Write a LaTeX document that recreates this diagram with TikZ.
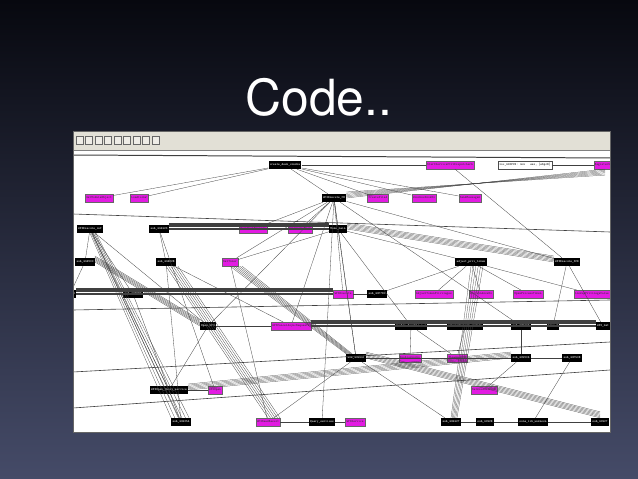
\documentclass[tikz,border=0pt]{standalone}
\usepackage{fontspec}
\setmainfont{TeX Gyre Heros}
\usetikzlibrary{positioning}
\definecolor{slidetop}{HTML}{07080F}
\definecolor{slidebot}{HTML}{454B68}
\definecolor{fnpink}{HTML}{E21BE2}
\definecolor{barcol}{HTML}{E2E0D6}
\tikzset{
  blk/.style={fill=black,text=white,font=\ttfamily\fontsize{3.2}{3.6}\selectfont,inner sep=1.2pt,minimum height=8bp},
  imp/.style={fill=fnpink,text=black!80,font=\ttfamily\fontsize{3.2}{3.6}\selectfont,inner sep=1.2pt,minimum height=8bp,draw=black!60,line width=0.2pt},
  ins/.style={fill=white,text=black,draw=black!70,font=\ttfamily\fontsize{3.2}{3.6}\selectfont,inner sep=1.2pt,minimum height=8bp},
  call/.style={draw=black!75,line width=0.3pt},
}
\begin{document}
\begin{tikzpicture}[x=1bp,y=-1bp]
\shade[top color=slidetop,bottom color=slidebot] (0,0) rectangle (638,479);
\useasboundingbox (0,0) rectangle (638,479);
\node[text=white,font=\fontsize{50}{54}\selectfont] (title) at (319,97) {Code..};
% screenshot panel
\fill[white] (73,131) rectangle (610,432);
\fill[barcol] (73,131) rectangle (610,150);
\draw[black!50,line width=0.3pt] (73,150) -- (610,150);
\foreach \i in {0,1,2,3,4,5,6,7,8} \draw[black!60,fill=barcol!60,line width=0.3pt] (76+\i*9.5,136) rectangle (83+\i*9.5,144);
\begin{scope}
\clip (73,151) rectangle (610,432);
% row 1
\node[blk] (desk) at (285,165) {create\_desk\_window};
\node[imp] (ctrl) at (450,165) {StartServiceCtrlDispatcherA};
\node[ins] (loc) at (525,165) {loc\_41EF09: mov \quad eax, [ebp+8]};
\node[imp] (regs) at (605,165) {RegisterServ};
% row 2
\node[imp] (getobj) at (99,198) {GetModuleObject};
\node[imp] (loadico) at (139,198) {LoadIconW};
\node[blk] (execcb) at (334,198) {WF3Execute\_CB};
\node[imp] (crfile) at (378,198) {CreateFileA};
\node[imp] (wnd) at (424,198) {WindowsHookEx};
\node[imp] (sendm) at (470,198) {SendMessageA};
% row 3
\node[blk] (einf) at (90,229) {WF3Execute\_inf};
\node[blk] (s423) at (159,229) {sub\_40A423};
\node[imp] (postm) at (253,229) {PostQuitMessage};
\node[imp] (getwnd) at (300,229) {GetWindowRect};
\node[blk] (menu) at (338,229) {Menu\_main};
% row 4
\node[blk] (s900) at (85,262) {sub\_40A900};
\node[blk] (s828) at (166,262) {sub\_40A828};
\node[imp] (timer) at (230,262) {SetTimer};
\node[blk] (adj) at (471,262) {adjust\_priv\_token};
\node[blk] (esce) at (567,262) {WF3Execute\_SCE};
% row 5
\node[blk] (s5a) at (70,294) {sub\_40};
\node[blk] (s397) at (133,294) {sub\_40398T};
\node[imp] (wexec) at (343,294) {WF3Execute};
\node[blk] (sf78) at (377,294) {sub\_40F780};
\node[imp] (adjp) at (434,294) {AdjustTokenPrivileges};
\node[imp] (exitw) at (481,294) {ExitWindowsEx};
\node[imp] (opent) at (528,294) {OpenProcessToken};
\node[imp] (lookp) at (592,294) {LookupPrivilegeValue};
% row 6
\node[blk] (open) at (208,326) {Open\_WF3};
\node[imp] (cancel) at (291,326) {WF3CancelAsyncRequests};
\node[blk] (enab) at (411,326) {enable\_disable\_a\_s};
\node[blk] (setw) at (465,326) {setwindowtext\_update};
\node[blk] (s403) at (521,326) {sub\_405403};
\node[blk] (menu2) at (553,326) {menu\_2};
\node[blk] (wg) at (603,326) {WF3\_Get};
% row 7
\node[blk] (s641) at (356,358) {sub\_405641};
\node[imp] (enwin) at (410,358) {EnableWindow};
\node[imp] (showw) at (457,358) {ShowWindow};
\node[blk] (s906) at (521,358) {sub\_405906};
\node[blk] (sf508) at (572,358) {sub\_40F508};
% row 8
\node[blk] (oq) at (169,390) {WF3Open\_Query\_service};
\node[imp] (wopen) at (215,390) {WF3Open};
\node[imp] (ssnd) at (484,390) {SetWindowTextA};
% row 9
\node[blk] (s254) at (181,422) {sub\_406254};
\node[imp] (wread) at (268,422) {WF3ReadResult};
\node[blk] (qs) at (322,422) {Query\_services};
\node[imp] (wsrv) at (355,422) {WF3Service};
\node[blk] (s427) at (451,422) {sub\_406427};
\node[blk] (s52e) at (485,422) {sub\_4052E};
\node[blk] (slib) at (533,422) {some\_lib\_unknown};
\node[blk] (s52x) at (600,422) {sub\_40527};
% calls
\foreach \a/\b in {desk/execcb,desk/crfile,desk/wnd,desk/sendm,desk/getobj,desk/loadico,
  execcb/menu,execcb/postm,execcb/getwnd,execcb/timer,execcb/open,execcb/cancel,execcb/wexec,
  execcb/s641,execcb/qs,execcb/esce,execcb/s403,menu/adj,menu/enab,menu/s641,menu/timer,
  einf/s900,einf/s397,einf/open,einf/s254,einf/oq,s423/s828,s423/wopen,s828/s254,s828/cancel,
  adj/adjp,adj/exitw,adj/opent,adj/lookp,adj/sf78,esce/wg,esce/menu2,
  enab/setw,setw/s403,s403/menu2,s403/s906,enab/enwin,enab/showw,setw/showw,
  s906/sf508,s906/ssnd,s641/s427,s641/wread,open/oq,open/cancel,oq/wopen,
  qs/wsrv,wread/qs,s427/s52e,s52e/slib,slib/s52x,s397/s254,s900/s5a,timer/wread,
  loc/regs,desk/ctrl,ctrl/esce,sf508/slib,cancel/enab,s641/s906,wexec/sf78}
  \draw[call] (\a) -- (\b);
% bundled long calls
\foreach \d in {0,1.2,...,6}{
  \draw[call,line width=0.25pt] ([yshift=\d]s900.east) -- ([yshift=\d]open.west);
  \draw[call,line width=0.25pt] ([xshift=\d]einf.south) -- ([xshift=3*\d]s254.north west);
  \draw[call,line width=0.25pt] ([yshift=\d]s423.east) -- ([yshift=\d]menu.west);
  \draw[call,line width=0.25pt] ([yshift=\d]menu.east) -- ([yshift=\d]esce.west);
  \draw[call,line width=0.25pt] ([yshift=\d]execcb.east) -- ([yshift=-\d]regs.south);
  \draw[call,line width=0.25pt] ([yshift=\d]cancel.east) -- ([yshift=\d]wg.west);
  \draw[call,line width=0.25pt] ([yshift=\d]s5a.east) -- ([yshift=\d]wexec.west);
  \draw[call,line width=0.25pt] ([yshift=\d]oq.east) -- ([yshift=\d]s906.west);
  \draw[call,line width=0.25pt] ([yshift=\d]s641.east) -- ([yshift=\d]s52x.north);
  \draw[call,line width=0.25pt] ([xshift=2*\d]s828.south) -- ([xshift=2*\d]wread.north);
  \draw[call,line width=0.25pt] ([xshift=2*\d]timer.south) -- ([xshift=\d]s641.north west);
  \draw[call,line width=0.25pt] ([xshift=2*\d]adj.south) -- ([xshift=\d]s427.north);
}
\draw[call,line width=1pt] (73,155) -- (610,158);
\draw[call,line width=0.6pt] (73,214) -- (610,232);
\draw[call,line width=0.6pt] (73,310) -- (610,300);
\draw[call,line width=0.6pt] (73,372) -- (610,342);
\draw[call,line width=0.6pt] (73,408) -- (610,370);
\end{scope}
\draw[black!60,line width=0.4pt] (73,131) rectangle (610,432);
\end{tikzpicture}
\end{document}
